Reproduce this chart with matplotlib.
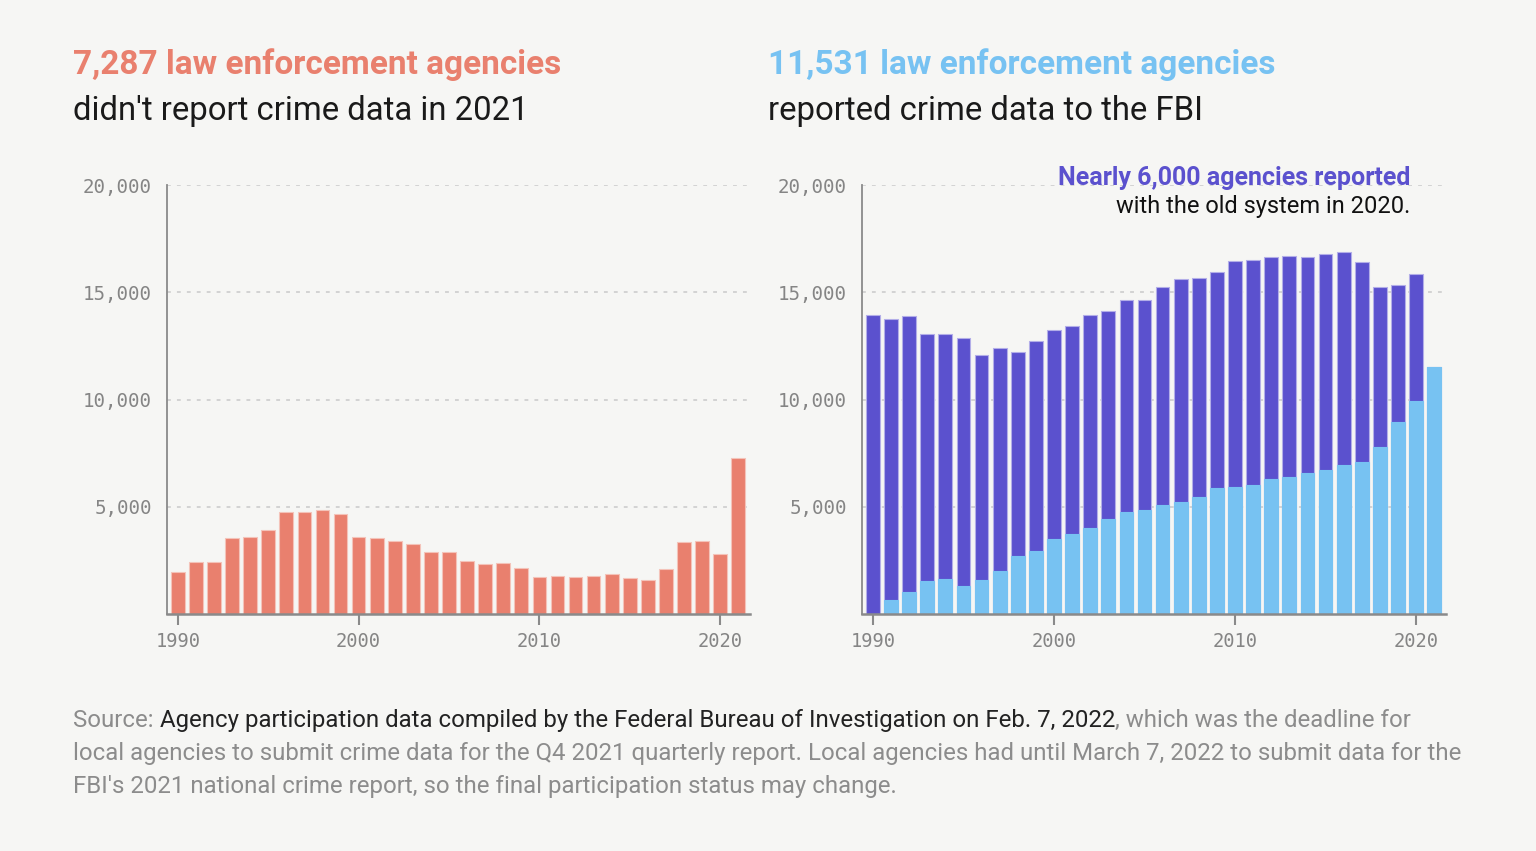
import matplotlib
matplotlib.use("Agg")
import matplotlib.pyplot as plt

# data
years = list(range(1990, 2022))

not_reported = [1960, 2440, 2440, 3530, 3600, 3920, 4740, 4740, 4860, 4650,
                3600, 3560, 3390, 3260, 2870, 2870, 2490, 2320, 2360, 2140,
                1710, 1790, 1710, 1760, 1880, 1660, 1570, 2100, 3360, 3400,
                2780, 7287]

# all agencies that reported (old system + NIBRS)
reported_total = [13930, 13770, 13890, 13040, 13070, 12850, 12070, 12390, 12200, 12730,
                  13240, 13410, 13930, 14110, 14620, 14620, 15230, 15620, 15660, 15930,
                  16440, 16490, 16630, 16680, 16630, 16780, 16880, 16410, 15230, 15320,
                  15840, 11531]

reported_nibrs = [0, 670, 1010, 1540, 1630, 1310, 1590, 2000, 2700, 2920,
                  3480, 3740, 4010, 4430, 4740, 4860, 5080, 5210, 5470, 5860,
                  5910, 6000, 6290, 6390, 6590, 6730, 6950, 7100, 7800, 8970,
                  9920, 11531]

y_ticks = [5000, 10000, 15000, 20000]
x_ticks = [1990, 2000, 2010, 2020]

W, H = 1536, 851
BG = "#f6f6f4"
SALMON = "#e9806e"
PURPLE = "#5b51ce"
LIGHTBLUE = "#77c2f2"
GREY = "#8a8a8a"

fig = plt.figure(figsize=(W / 100, H / 100), dpi=100, facecolor=BG)


def fx(x):
    return x / W


def fy(y):
    return 1 - y / H


def setup_axes(ax):
    ax.set_facecolor(BG)
    ax.set_xlim(1989.4, 2021.65)
    ax.set_ylim(0, 20000)
    ax.set_yticks(y_ticks)
    ax.set_yticklabels([f"{v:,}" for v in y_ticks])
    ax.set_xticks(x_ticks)
    ax.set_xticklabels([str(v) for v in x_ticks])
    for side in ["top", "right"]:
        ax.spines[side].set_visible(False)
    ax.spines["left"].set_color(GREY)
    ax.spines["left"].set_linewidth(1.3)
    ax.spines["bottom"].set_color(GREY)
    ax.spines["bottom"].set_linewidth(1.8)
    ax.tick_params(axis="y", length=0, pad=11, labelcolor="#858585", labelsize=13.8)
    ax.tick_params(axis="x", length=8, width=1.5, color=GREY, pad=5,
                   labelcolor="#858585", labelsize=13.5)
    for lab in ax.get_xticklabels() + ax.get_yticklabels():
        lab.set_family("DejaVu Sans Mono")
    ax.grid(axis="y", color="#c9c9c9", linestyle=(0, (2.5, 4)), linewidth=1.1)
    ax.set_axisbelow(True)


ax1 = fig.add_axes([fx(167), fy(614), fx(750 - 167), (614 - 185) / H])
ax2 = fig.add_axes([fx(862), fy(614), fx(1446 - 862), (614 - 185) / H])
setup_axes(ax1)
setup_axes(ax2)

bw = 0.76
ax1.bar(years, not_reported, width=bw, color=SALMON, edgecolor="#f4c3b9", linewidth=0.8)
ax2.bar(years, reported_total, width=bw, color=PURPLE, edgecolor="#b3aee8", linewidth=0.8)
ax2.bar(years, reported_nibrs, width=bw, color=LIGHTBLUE, edgecolor=LIGHTBLUE, linewidth=0.8)

# headings
fig.text(fx(73), fy(74), "7,287 law enforcement agencies", family="Roboto",
         weight="bold", size=24, color=SALMON, va="baseline")
fig.text(fx(73), fy(120), "didn't report crime data in 2021", family="Roboto",
         size=23.7, color="#1a1a1a", va="baseline")
fig.text(fx(768), fy(74), "11,531 law enforcement agencies", family="Roboto",
         weight="bold", size=24, color=LIGHTBLUE, va="baseline")
fig.text(fx(768), fy(120), "reported crime data to the FBI", family="Roboto",
         size=23.7, color="#1a1a1a", va="baseline")

# annotation on the right chart
fig.text(fx(1410), fy(185), "Nearly 6,000 agencies reported", family="Roboto",
         weight="bold", size=18, color=PURPLE, ha="right", va="baseline")
fig.text(fx(1410), fy(213), "with the old system in 2020.", family="Roboto",
         size=17, color="#111111", ha="right", va="baseline")

# source note, drawn piece by piece to mix colours
renderer = fig.canvas.get_renderer()
SRC_GREY = "#8c8c8c"
source_lines = [
    [("Source: ", SRC_GREY),
     ("Agency participation data compiled by the Federal Bureau of Investigation on Feb. 7, 2022", "#222222"),
     (", which was the deadline for", SRC_GREY)],
    [("local agencies to submit crime data for the Q4 2021 quarterly report. Local agencies had until March 7, 2022 to submit data for the", SRC_GREY)],
    [("FBI's 2021 national crime report, so the final participation status may change.", SRC_GREY)],
]
baselines = [727, 760, 793]
for pieces, yb in zip(source_lines, baselines):
    x = 73
    for s, c in pieces:
        t = fig.text(fx(x), fy(yb), s, family="Roboto", size=17.3, color=c, va="baseline")
        bb = t.get_window_extent(renderer)
        x = bb.x1

fig.savefig("out.png", dpi=100, facecolor=BG)
